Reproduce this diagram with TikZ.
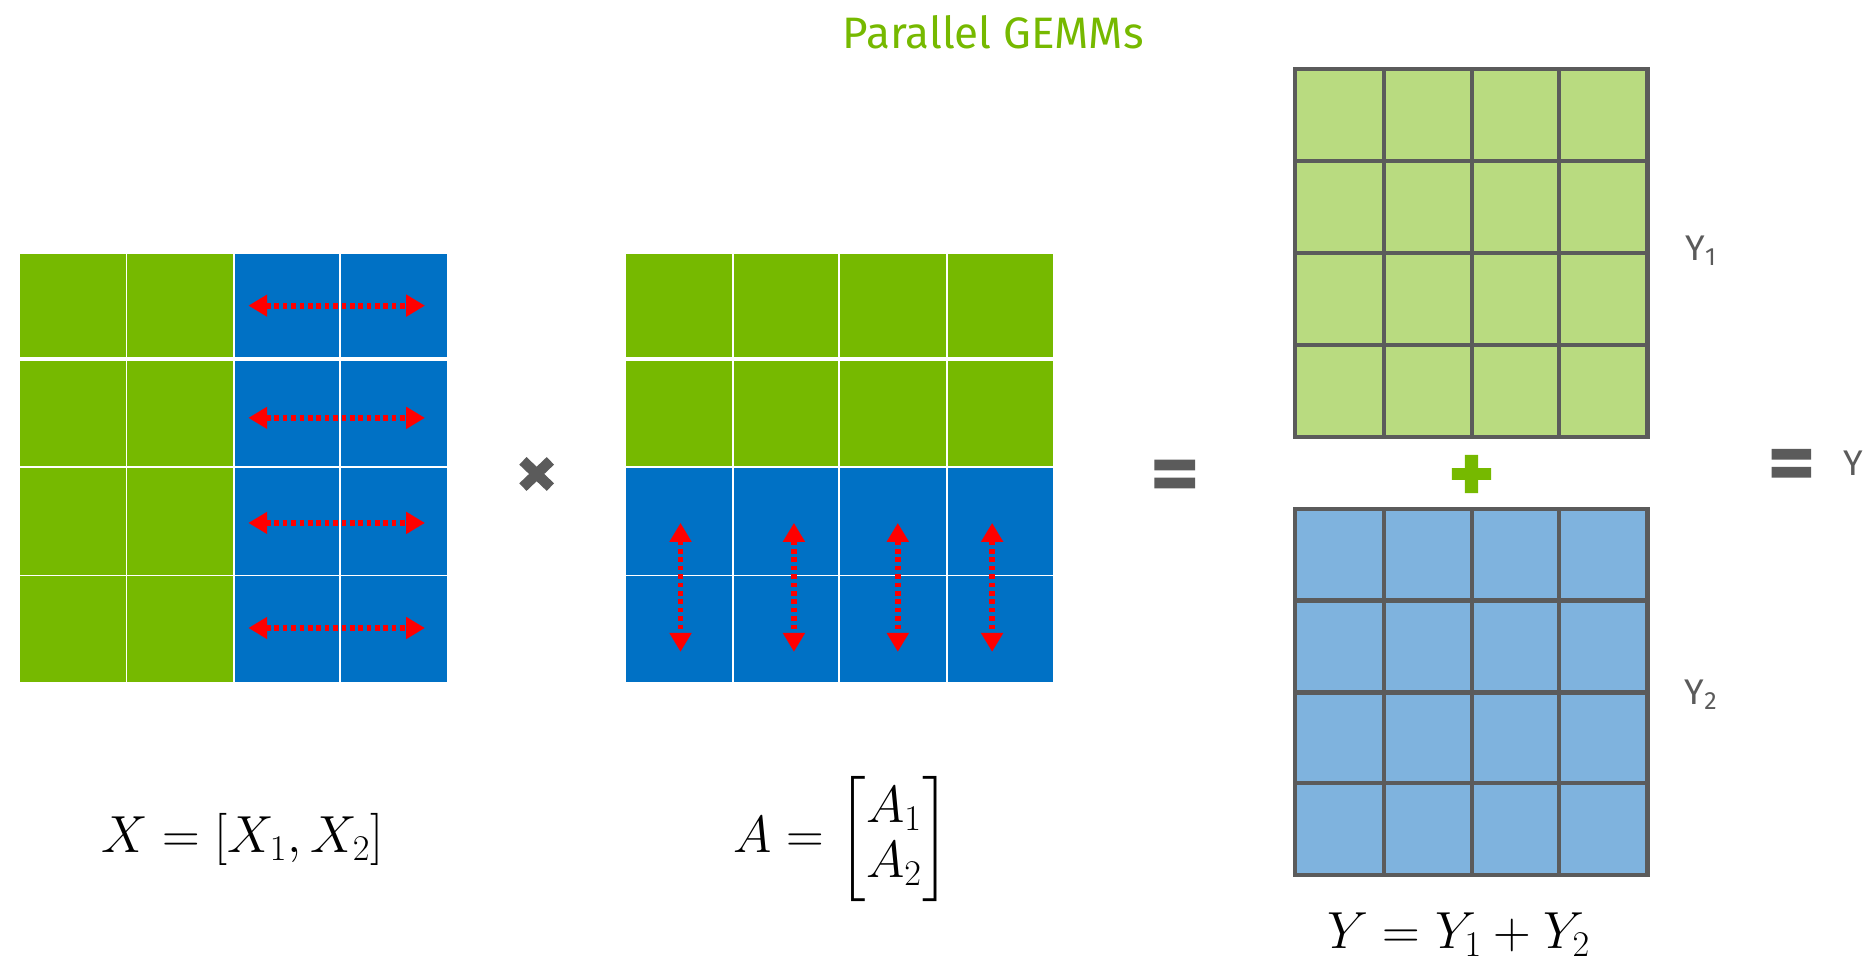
\documentclass[tikz,border=0pt]{standalone}
\usepackage{amsmath}
\usepackage{fontspec}
\setmainfont{Latin Modern Roman}
\newfontfamily\sans{Fira Sans}
\usetikzlibrary{arrows.meta}
\definecolor{ngreen}{HTML}{76B900}
\definecolor{nblue}{HTML}{0071C5}
\definecolor{lgreen}{HTML}{B9DB80}
\definecolor{lblue}{HTML}{7FB3DE}
\definecolor{dgray}{HTML}{5B5B5B}
\begin{document}
\begin{tikzpicture}[x=0.02cm,y=-0.02cm,
  darr/.style={red,line width=2.8pt,dash pattern=on 2.2pt off 1.8pt,{Triangle[length=9pt,width=10pt]}-{Triangle[length=9pt,width=10pt]}},
  wline/.style={white,line width=0.8pt},
  gline/.style={dgray,line width=2pt},
  lab/.style={font=\sans\fontsize{17}{19}\selectfont,text=dgray},
  mth/.style={font=\fontsize{23}{26}\selectfont}]
\useasboundingbox (0,0) rectangle (1568,818);
\node[font=\sans\fontsize{21}{23}\selectfont,text=ngreen] (title) at (832,27) {Parallel GEMMs};
% X matrix
\fill[ngreen] (17,213) rectangle (196,571);
\fill[nblue] (196,213) rectangle (374,571);
\foreach \x in {106,196,285} \draw[wline] (\x,213) -- (\x,571);
\foreach \y in {391,482} \draw[wline] (17,\y) -- (374,\y);
\draw[white,line width=2pt] (17,301) -- (374,301);
\foreach \y [count=\i] in {256,350,438,526} {
  \coordinate (xl\i) at (208,\y); \coordinate (xr\i) at (356,\y);
  \draw[darr] (xl\i) -- (xr\i);}
% times
\coordinate (t1) at (438,386); \coordinate (t2) at (461,408);
\coordinate (t3) at (461,386); \coordinate (t4) at (438,408);
\draw[dgray,line width=5pt] (t1) -- (t2) (t3) -- (t4);
% A matrix
\fill[ngreen] (524,213) rectangle (882,391);
\fill[nblue] (524,391) rectangle (882,571);
\foreach \x in {614,703,793} \draw[wline] (\x,213) -- (\x,571);
\foreach \y in {391,482} \draw[wline] (524,\y) -- (882,\y);
\draw[white,line width=2pt] (524,301) -- (882,301);
\foreach \x [count=\i] in {570,665,752,831} {
  \coordinate (at\i) at (\x,438); \coordinate (ab\i) at (\x,546);
  \draw[darr] (at\i) -- (ab\i);}
% equals
\fill[dgray] (967,385) rectangle (1001,394) (967,400) rectangle (1001,409);
\fill[dgray] (1484,376) rectangle (1517,385) (1484,391) rectangle (1517,400);
% Y1, Y2
\fill[lgreen] (1085,58) rectangle (1380,366);
\fill[lblue] (1085,426) rectangle (1380,733);
\foreach \x in {1159,1233,1306} {\draw[gline] (\x,58) -- (\x,366); \draw[gline] (\x,426) -- (\x,733);}
\foreach \y in {135,212,289} \draw[gline] (1085,\y) -- (1380,\y);
\foreach \y in {503,580,656} \draw[gline] (1085,\y) -- (1380,\y);
\draw[gline] (1085,58) rectangle (1380,366);
\draw[gline] (1085,426) rectangle (1380,733);
% plus
\fill[ngreen] (1227,381) rectangle (1238,413) (1216,392) rectangle (1249,402);
\node[lab] (y1) at (1425,210) {Y\textsubscript{1}};
\node[lab] (y2) at (1425,582) {Y\textsubscript{2}};
\node[lab] (y) at (1552,388) {Y};
% formulas
\node[mth] (fx) at (203,703) {$X=[X_1,X_2]$};
\node[mth] (fa) at (705,703) {$A=\begin{bmatrix}A_1\\A_2\end{bmatrix}$};
\node[mth] (fy) at (1222,783) {$Y=Y_1+Y_2$};
\end{tikzpicture}
\end{document}
